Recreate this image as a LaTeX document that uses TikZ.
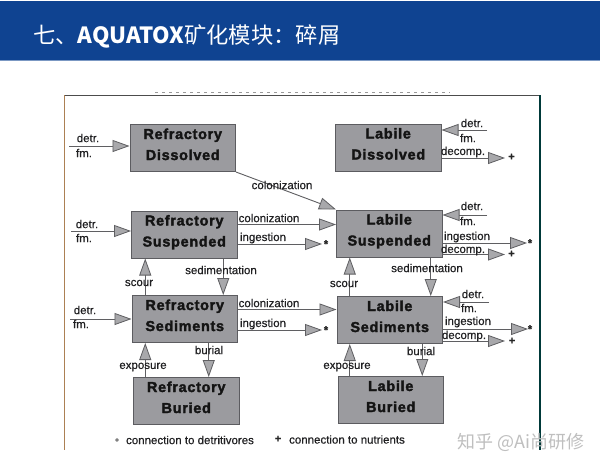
\documentclass[tikz,border=0pt]{standalone}
\usepackage{fontspec}
\setmainfont{Liberation Sans}[FakeBold=0.5]
\newfontfamily\cjkfont{Noto Sans CJK SC}
\newfontfamily\boxfont[LetterSpace=5,FakeBold=2.2]{Liberation Sans Bold}
\newfontfamily\lblfont[FakeBold=0.5]{Liberation Sans}
\usetikzlibrary{arrows.meta}
\definecolor{band}{HTML}{0F4391}
\definecolor{boxfill}{HTML}{9B9B9F}
\definecolor{boxline}{HTML}{5C5C60}
\definecolor{conn}{HTML}{5F5F62}
\definecolor{headfill}{HTML}{A8A8AB}
\definecolor{lab}{HTML}{202022}
\tikzset{
  stock/.style={draw=boxline,line width=1pt,fill=boxfill,minimum width=105.5pt,minimum height=47pt,inner sep=0pt},
  stocktext/.style={inner sep=0pt,text=black!92,text height=10pt,text depth=0pt,font=\boxfont\fontsize{14.4}{16}\selectfont},
  flow/.style={draw=conn,line width=.9pt,-{Triangle[length=17pt,width=12pt,fill=headfill,color=conn,line width=.8pt]}},
  lbl/.style={inner sep=0pt,text=lab,font=\lblfont\fontsize{11.5}{13}\selectfont},
  endmark/.style={inner sep=0pt,text=black!85,font=\bfseries\fontsize{11}{13}\selectfont},
}
\newcommand{\stockbox}[4]{%
  \node[stock,anchor=north west] (#1) at (#2) {};
  \node[stocktext] (#1a) at ([yshift=14pt]#1.center) {#3};
  \node[stocktext] (#1b) at ([yshift=-7pt]#1.center) {#4};}
\begin{document}
\begin{tikzpicture}[x=1pt,y=-1pt]
\useasboundingbox (0,0) rectangle (600,466);
\fill[white] (0,0) rectangle (600,466);
\fill[band] (0,1) rectangle (600,60);
\draw[color=band!55!white,line width=.8pt] (0,60.5) -- (600,60.5);
\node[anchor=west,inner sep=0pt,text=white,font=\cjkfont\fontsize{22.3}{25}\selectfont] (title) at (33,36.5) {七、{\bfseries AQUATOX}矿化模块：碎屑};

% frame
\draw[color=black!40,line width=.9pt,dash pattern=on 3pt off 4pt] (155,92) -- (450,92);
\draw[color=brown!70!gray,line width=1pt] (64.5,95) -- (64.5,450);
\draw[color=black!70,line width=1pt] (64.5,95) -- (540,95);
\draw[color=teal!45!black,line width=1.2pt] (540,95) -- (540,450);

% stocks
\stockbox{rd}{129.5,124}{Refractory}{Dissolved}
\stockbox{ld}{335,123.5}{Labile}{Dissolved}
\stockbox{rs}{131,210.5}{Refractory}{Suspended}
\stockbox{ls}{336,209.5}{Labile}{Suspended}
\stockbox{rm}{131.5,295}{Refractory}{Sediments}
\stockbox{lm}{336.5,296}{Labile}{Sediments}
\stockbox{rb}{133,377}{Refractory}{Buried}
\stockbox{lb}{337.5,376}{Labile}{Buried}

% free ends
\coordinate (f1) at (69,146);
\coordinate (f2) at (71,231);
\coordinate (f3) at (70,319);
\coordinate (f4) at (487,130);
\coordinate (f5) at (487,215);
\coordinate (f6) at (489,302);
\coordinate (g1) at (505,158);
\coordinate (g2) at (505,254.5);
\coordinate (g3) at (505,341);
\coordinate (h1) at (527,243);
\coordinate (h2) at (528,329);
\coordinate (h3) at (322,244);
\coordinate (h4) at (322,330);

% inputs
\draw[flow] (f1) -- (f1 -| rd.west);
\draw[flow] (f2) -- (f2 -| rs.west);
\draw[flow] (f3) -- (f3 -| rm.west);
\draw[flow] (f4) -- (f4 -| ld.east);
\draw[flow] (f5) -- (f5 -| ls.east);
\draw[flow] (f6) -- (f6 -| lm.east);
% outputs
\draw[flow] (g1 -| ld.east) -- (g1);
\draw[flow] (g2 -| ls.east) -- (g2);
\draw[flow] (g3 -| lm.east) -- (g3);
\draw[flow] (h1 -| ls.east) -- (h1);
\draw[flow] (h2 -| lm.east) -- (h2);
\draw[flow] (h3 -| rs.east) -- (h3);
\draw[flow] (h4 -| rm.east) -- (h4);
% colonization
\draw[flow] (rd.south east) -- (ls.north west);
\draw[flow] ([yshift=10pt]rs.east) -- ([yshift=10pt]rs.east -| ls.west);
\draw[flow] ([yshift=9.5pt]rm.east) -- ([yshift=9.5pt]rm.east -| lm.west);
% vertical
\draw[flow] ([xshift=39pt]rs.south) -- ([xshift=39pt]rs.south |- rm.north);
\draw[flow] ([xshift=41.5pt]ls.south) -- ([xshift=41.5pt]ls.south |- lm.north);
\draw[flow] ([xshift=-39.5pt]rm.north) -- ([xshift=-39.5pt]rm.north |- rs.south);
\draw[flow] ([xshift=-40pt]lm.north) -- ([xshift=-40pt]lm.north |- ls.south);
\draw[flow] ([xshift=24pt]rm.south) -- ([xshift=24pt]rm.south |- rb.north);
\draw[flow] ([xshift=32.5pt]lm.south) -- ([xshift=32.5pt]lm.south |- lb.north);
\draw[flow] ([xshift=-41pt]rb.north) -- ([xshift=-41pt]rb.north |- rm.south);
\draw[flow] ([xshift=-41pt]lb.north) -- ([xshift=-41pt]lb.north |- lm.south);

% labels
\node[lbl] (t1) at (88,138) {detr.};
\node[lbl] (t2) at (84,153) {fm.};
\node[lbl] (t3) at (87,224) {detr.};
\node[lbl] (t4) at (84,238) {fm.};
\node[lbl] (t5) at (85,310) {detr.};
\node[lbl] (t6) at (81,324) {fm.};
\node[lbl] (t7) at (472,123) {detr.};
\node[lbl] (t8) at (468,138) {fm.};
\node[lbl] (t9) at (472,206) {detr.};
\node[lbl] (t10) at (468,221) {fm.};
\node[lbl] (t11) at (473,294) {detr.};
\node[lbl] (t12) at (469,308) {fm.};
\node[lbl] (t13) at (463,152) {decomp.};
\node[lbl] (t14) at (463,250) {decomp.};
\node[lbl] (t15) at (464,336) {decomp.};
\node[lbl] (t16) at (467,237) {ingestion};
\node[lbl] (t17) at (468,322) {ingestion};
\node[lbl] (t18) at (263,238) {ingestion};
\node[lbl] (t19) at (263,324) {ingestion};
\node[lbl] (t20) at (282,185) {colonization};
\node[lbl] (t21) at (269,218) {colonization};
\node[lbl] (t22) at (269,303) {colonization};
\node[lbl] (t23) at (221,270) {sedimentation};
\node[lbl] (t24) at (427,268) {sedimentation};
\node[lbl] (t25) at (139,283) {scour};
\node[lbl] (t26) at (344,284) {scour};
\node[lbl] (t27) at (209,350) {burial};
\node[lbl] (t28) at (421,351) {burial};
\node[lbl] (t29) at (143,367) {exposure};
\node[lbl] (t30) at (347,367) {exposure};
% ends
\node[endmark] (p1) at (511.5,157) {+};
\node[endmark] (p2) at (511.5,254) {+};
\node[endmark] (p3) at (512,341) {+};
\node[endmark] (s1) at (530,243) {*};
\node[endmark] (s2) at (530,329) {*};
\node[endmark] (s3) at (326,244) {*};
\node[endmark] (s4) at (326,330) {*};
% legend
\node[endmark,text=black!50] (k1) at (117,441) {•};
\node[lbl] (k2) at (190,440) {connection to detritivores};
\node[endmark] (k3) at (278,439) {+};
\node[lbl] (k4) at (347,439.5) {connection to nutrients};
% watermark
\node[inner sep=0pt,text=black!25,font=\cjkfont\fontsize{18}{20}\selectfont] (wm) at (521,442) {知乎 @Ai尚研修};
\end{tikzpicture}
\end{document}
